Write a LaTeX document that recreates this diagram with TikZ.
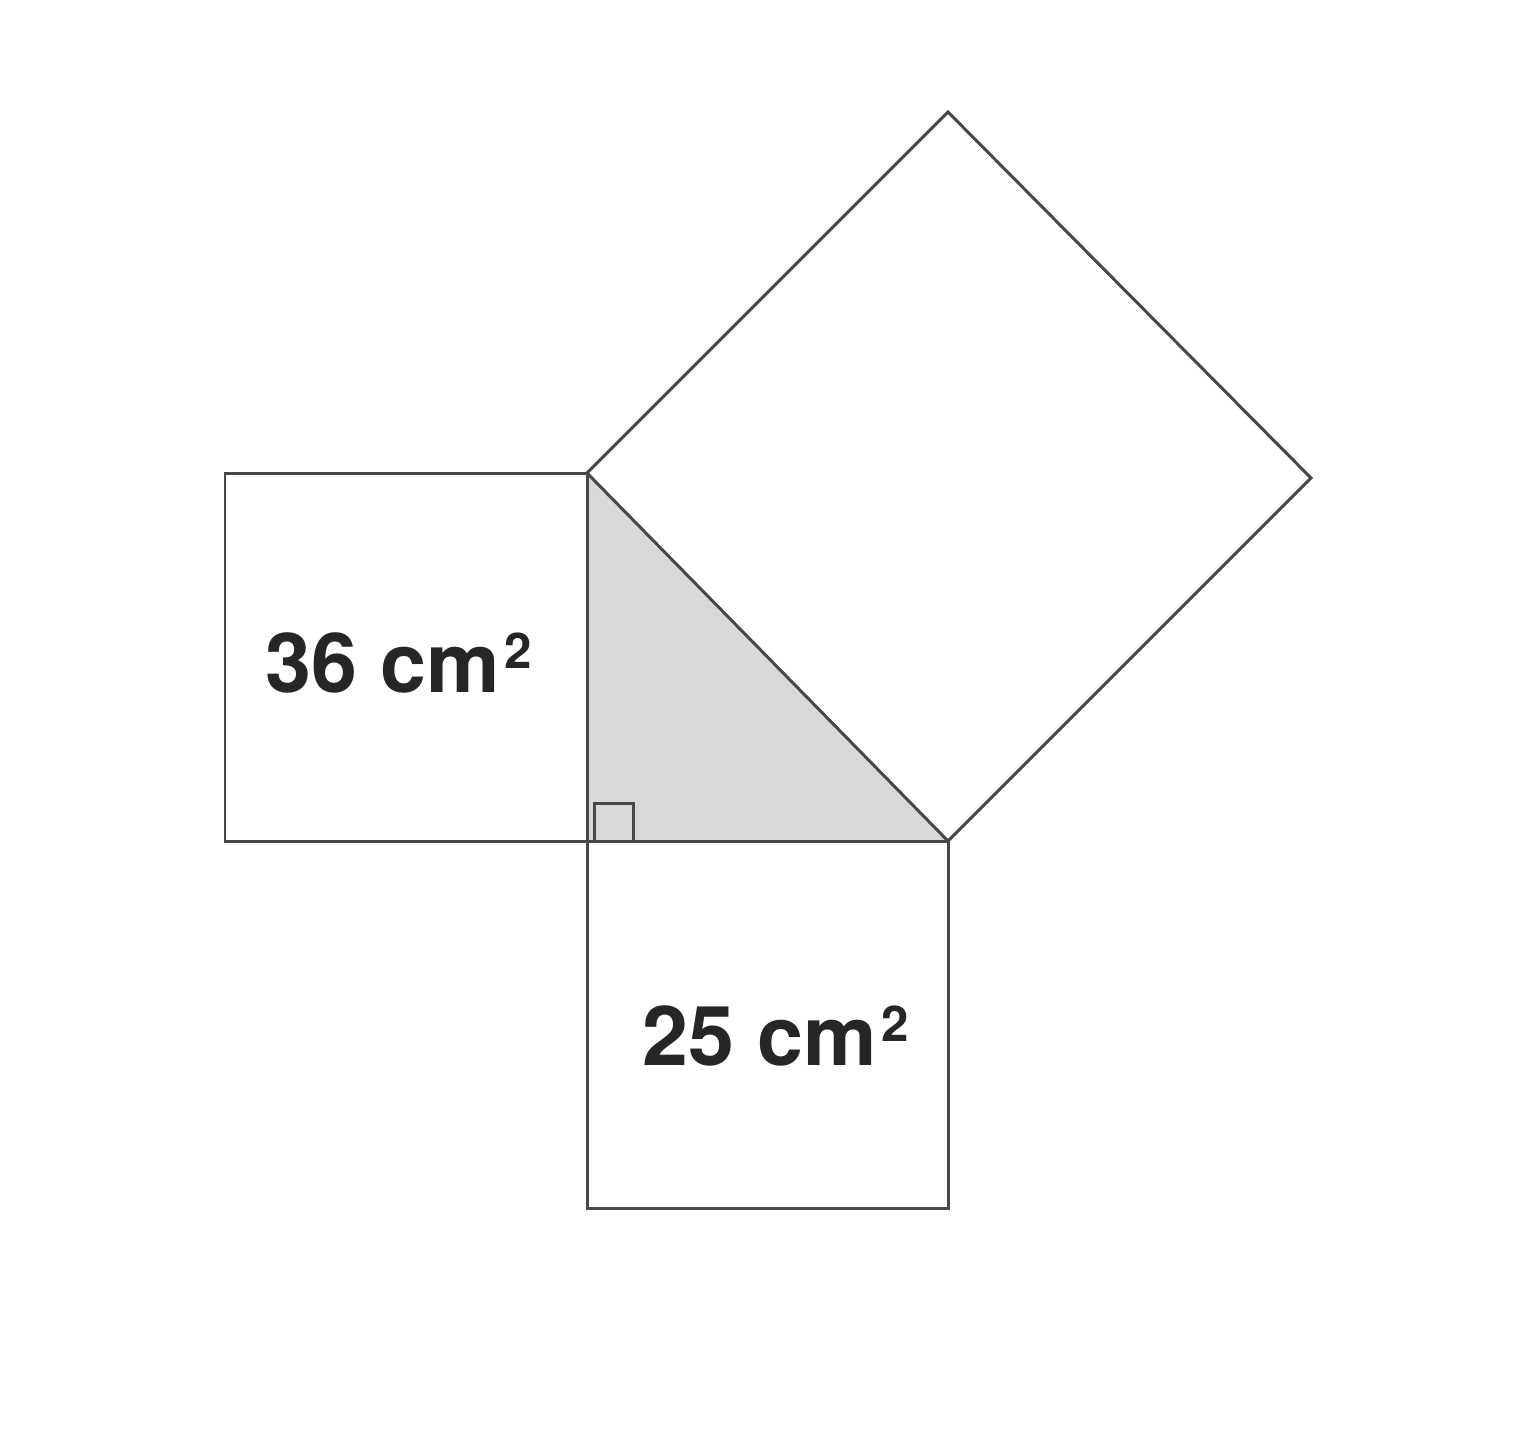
\documentclass[tikz,border=0pt]{standalone}
\usepackage{fontspec}
\setmainfont{TeX Gyre Heros}
\usepackage{tikz}
\usepackage[svgnames]{xcolor}
\newcommand{\areaunit}{cm\kern0.06em\raisebox{6.6pt}{\fontsize{14}{14}\selectfont 2}}

\begin{document}
\begin{tikzpicture}
                        [
                            x=0.01cm, y=-0.01cm,
                            edge style/.style={line width=0.85pt, color=black!72, line join=miter},
                            area label/.style={anchor=base, font=\fontsize{23.5}{26}\selectfont\bfseries, text=black!85, inner sep=0pt}
                        ]
                        \useasboundingbox (0,0) rectangle (1536,1439);
                        % vertices of the triangle and the squares
                        \coordinate (C) at (587,841);
                        \coordinate (A) at (587,473);
                        \coordinate (B) at (948,841);
                        \coordinate (L1) at (225,473);
                        \coordinate (L2) at (225,841);
                        \coordinate (D1) at (587,1208);
                        \coordinate (D2) at (948,1208);
                        \coordinate (H1) at (948,112);
                        \coordinate (H2) at (1311,478);
                        % shaded triangle
                        \fill[gray!30] (A) -- (B) -- (C) -- cycle;
                        \draw[edge style] (A) -- (B);
                        % squares on the sides
                        \draw[edge style] (C) -- (A) -- (L1) -- (L2) -- cycle;
                        \draw[edge style] (C) -- (B) -- (D2) -- (D1) -- cycle;
                        \draw[edge style] (A) -- (H1) -- (H2) -- (B);
                        % right angle mark
                        \draw[edge style] (594,841) rectangle (633,803);
                        \node[area label] (left area) at (399,692) {36 \areaunit};
                        \node[area label] (bottom area) at (776,1065) {25 \areaunit};
                        \end{tikzpicture}
\end{document}
